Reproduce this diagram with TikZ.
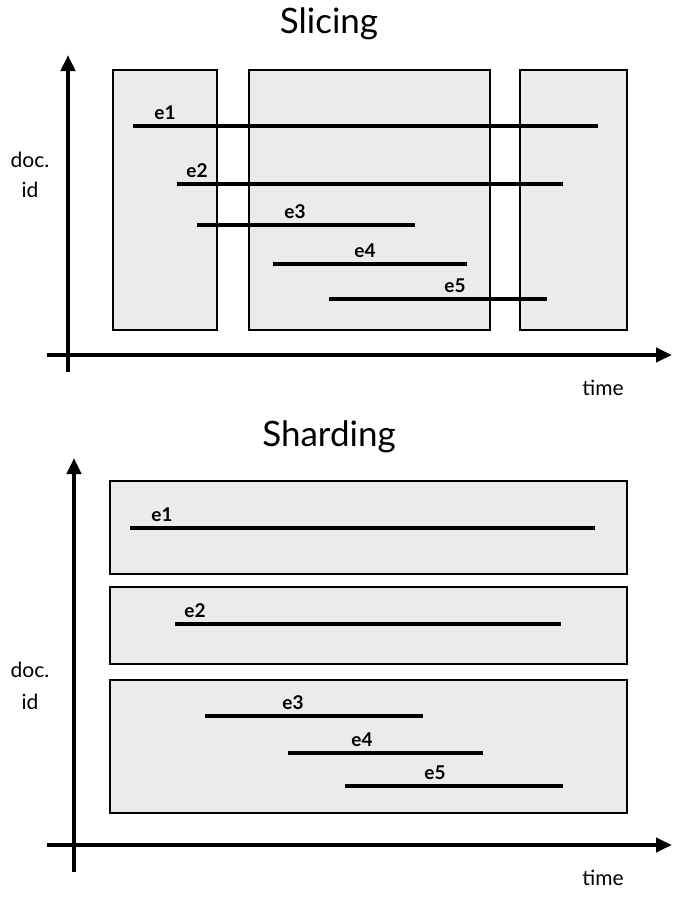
\documentclass[tikz,border=0pt]{standalone}
\usepackage{fontspec}
\setmainfont{Lato}
\usetikzlibrary{arrows.meta}
\begin{document}
\begin{tikzpicture}[x=1pt,y=-1pt,
  box/.style={draw=black,line width=2.5pt,fill={rgb,255:red,235;green,235;blue,235}},
  ev/.style={line width=4.5pt},
  axis/.style={line width=4.5pt,-{Triangle[length=16pt,width=14pt]}},
  lab/.style={font=\bfseries\fontsize{19}{22}\selectfont,inner sep=0pt},
  txt/.style={font=\fontsize{21}{24}\selectfont,inner sep=0pt},
  ttl/.style={font=\fontsize{35}{40}\selectfont,inner sep=0pt}]
\useasboundingbox (0,0) rectangle (679,897);
% Slicing
\node[ttl] (t1) at (329,24) {Slicing};
\draw[box] (113,70) rectangle (217,330);
\draw[box] (249,70) rectangle (490,330);
\draw[box] (520,70) rectangle (627,330);
\coordinate (ya1) at (68,372); \coordinate (yb1) at (68,55);
\coordinate (xa1) at (47,355); \coordinate (xb1) at (672,355);
\draw[axis] (ya1) -- (yb1);
\draw[axis] (xa1) -- (xb1);
\foreach \n/\y/\a/\b/\lx in {1/126/133/598/165, 2/184/177/563/197, 3/225/197/415/295, 4/264/273/467/365, 5/299/329/547/455}{
  \coordinate (s\n a) at (\a,\y); \coordinate (s\n b) at (\b,\y);
  \draw[ev] (s\n a) -- (s\n b);
  \node[lab] (sl\n) at (\lx,\y-13) {e\n};
}
\node[txt] (d1) at (30,160) {doc.};
\node[txt] (i1) at (30,190) {id};
\node[txt] (tm1) at (603,388) {time};
% Sharding
\node[ttl] (t2) at (329,437) {Sharding};
\draw[box] (110,481) rectangle (627,574);
\draw[box] (110,587) rectangle (627,664);
\draw[box] (110,680) rectangle (627,813);
\coordinate (ya2) at (74,872); \coordinate (yb2) at (74,458);
\coordinate (xa2) at (47,845); \coordinate (xb2) at (672,845);
\draw[axis] (ya2) -- (yb2);
\draw[axis] (xa2) -- (xb2);
\foreach \n/\y/\a/\b/\lx in {1/528/130/595/162, 2/624/175/561/195, 3/716/205/423/293, 4/753/288/483/362, 5/786/345/563/435}{
  \coordinate (h\n a) at (\a,\y); \coordinate (h\n b) at (\b,\y);
  \draw[ev] (h\n a) -- (h\n b);
  \node[lab] (hl\n) at (\lx,\y-13) {e\n};
}
\node[txt] (d2) at (30,670) {doc.};
\node[txt] (i2) at (30,702) {id};
\node[txt] (tm2) at (603,878) {time};
\end{tikzpicture}
\end{document}
